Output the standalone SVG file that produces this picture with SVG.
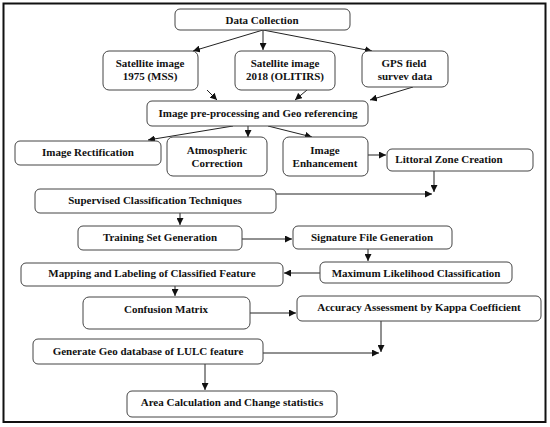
<svg xmlns="http://www.w3.org/2000/svg" width="550" height="427" viewBox="0 0 550 427">
<defs>
<marker id="ah" viewBox="0 0 10 10" refX="10" refY="5" markerWidth="7" markerHeight="7" markerUnits="userSpaceOnUse" orient="auto">
<path d="M0,0 L10,5 L0,10 z" fill="#111"/>
</marker>
<style>
.b{fill:#fff;stroke:#444;stroke-width:1}
.t{font-family:"Liberation Serif","Times New Roman",serif;font-weight:bold;font-size:11px;fill:#111;text-anchor:middle}
.c{fill:none;stroke:#222;stroke-width:1}
.a{fill:none;stroke:#222;stroke-width:1;marker-end:url(#ah)}
</style>
</defs>
<rect x="0" y="0" width="550" height="427" fill="#fff"/>
<rect x="3.5" y="3.5" width="542" height="418.5" fill="none" stroke="#111" stroke-width="2"/>
<g id="connectors">
<path class="a" d="M263,30 L193,51"/>
<path class="a" d="M263,30 L263,50"/>
<path class="a" d="M263,30 L372,51"/>
<path class="a" d="M207,90 L217,100"/>
<path class="a" d="M307,90 L295,100"/>
<path class="a" d="M413,87 L370,100"/>
<path class="a" d="M233,126 L148,140"/>
<path class="a" d="M248,126 L248,137"/>
<path class="a" d="M268,126 L312,137"/>
<path class="a" d="M368,155 L386,155"/>
<path class="a" d="M434,171 L434,192"/>
<path class="a" d="M276,194 L432,194"/>
<path class="a" d="M180,213 L180,225"/>
<path class="a" d="M242,239 L292,239"/>
<path class="a" d="M368,249 L368,261"/>
<path class="a" d="M320,273 L284,273"/>
<path class="a" d="M175,286 L175,296"/>
<path class="a" d="M250,313 L296,313"/>
<path class="a" d="M381,321 L381,352"/>
<path class="a" d="M263,353 L379,353"/>
<path class="a" d="M205,364 L205,390"/>
</g>
<g id="n1"><rect class="b" x="175" y="9" width="175" height="21" rx="5"/><text class="t" x="262" y="24">Data Collection</text></g>
<g id="n2"><rect class="b" x="103" y="51" width="95" height="39" rx="6"/><text class="t" x="150" y="67">Satellite image</text><text class="t" x="150" y="80">1975 (MSS)</text></g>
<g id="n3"><rect class="b" x="235" y="51" width="100" height="39" rx="6"/><text class="t" x="285" y="67">Satellite image</text><text class="t" x="285" y="80">2018 (OLITIRS)</text></g>
<g id="n4"><rect class="b" x="362" y="51" width="86" height="36" rx="6"/><text class="t" x="404" y="67">GPS field</text><text class="t" x="405" y="80">survev data</text></g>
<g id="n5"><rect class="b" x="147" y="101" width="221" height="25" rx="5"/><text class="t" x="258" y="117">Image pre-processing and Geo referencing</text></g>
<g id="n6"><rect class="b" x="15" y="141" width="146" height="24" rx="5"/><text class="t" x="88" y="156">Image Rectification</text></g>
<g id="n7"><rect class="b" x="167" y="137" width="100" height="39" rx="6"/><text class="t" x="217" y="154">Atmospheric</text><text class="t" x="217" y="167">Correction</text></g>
<g id="n8"><rect class="b" x="283" y="137" width="85" height="39" rx="6"/><text class="t" x="325" y="154">Image</text><text class="t" x="325" y="167">Enhancement</text></g>
<g id="n9"><rect class="b" x="387" y="149" width="146" height="22" rx="5"/><text class="t" x="449" y="163">Littoral Zone Creation</text></g>
<g id="n10"><rect class="b" x="35" y="189" width="241" height="24" rx="5"/><text class="t" x="155" y="204">Supervised Classification Techniques</text></g>
<g id="n11"><rect class="b" x="78" y="226" width="164" height="24" rx="5"/><text class="t" x="160" y="241">Training Set Generation</text></g>
<g id="n12"><rect class="b" x="293" y="226" width="159" height="23" rx="5"/><text class="t" x="372" y="241">Signature File Generation</text></g>
<g id="n13"><rect class="b" x="320" y="262" width="192" height="21" rx="5"/><text class="t" x="416" y="277">Maximum Likelihood Classification</text></g>
<g id="n14"><rect class="b" x="21" y="263" width="262" height="23" rx="5"/><text class="t" x="152" y="277">Mapping and Labeling of Classified Feature</text></g>
<g id="n15"><rect class="b" x="83" y="297" width="167" height="32" rx="6"/><text class="t" x="166" y="313">Confusion Matrix</text></g>
<g id="n16"><rect class="b" x="297" y="296" width="244" height="25" rx="5"/><text class="t" x="419" y="311">Accuracy Assessment by Kappa Coefficient</text></g>
<g id="n17"><rect class="b" x="33" y="339" width="230" height="25" rx="5"/><text class="t" x="148" y="355">Generate Geo database of LULC feature</text></g>
<g id="n18"><rect class="b" x="127" y="391" width="210" height="26" rx="5"/><text class="t" x="232" y="406">Area Calculation and Change statistics</text></g>
</svg>
